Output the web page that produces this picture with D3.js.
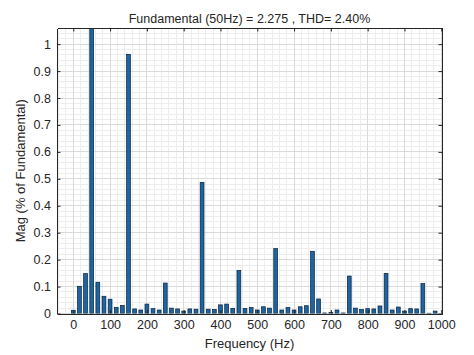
<!DOCTYPE html>
<html>
<head>
<meta charset="utf-8">
<script src="https://cdn.jsdelivr.net/npm/d3@7"></script>
<style>
  body { margin: 0; background: #fff; }
  text { font-family: "Liberation Sans", Arial, sans-serif; fill: #262626; }
</style>
</head>
<body>
<div id="chart"></div>
<script>
// spectrum bins, 50/3 Hz apart (3-cycle window)
const binStep = 50 / 3;
const magnitudes = [
  0.012, 0.101, 0.148, 100, 0.116, 0.064, 0.053, 0.023, 0.030, 0.962,
  0.017, 0.013, 0.035, 0.018, 0.013, 0.113, 0.020, 0.017, 0.009, 0.017,
  0.016, 0.487, 0.016, 0.015, 0.032, 0.035, 0.019, 0.160, 0.019, 0.022,
  0.013, 0.025, 0.020, 0.241, 0.013, 0.022, 0.013, 0.025, 0.029, 0.231,
  0.054, 0.002, 0.004, 0.013, 0.002, 0.139, 0.020, 0.015, 0.018, 0.017,
  0.028, 0.149, 0.013, 0.024, 0.009, 0.018, 0.017, 0.111, 0.001, 0.009,
  0
];
const xTicks = [0, 100, 200, 300, 400, 500, 600, 700, 800, 900, 1000];
const yTicks = [0, 0.1, 0.2, 0.3, 0.4, 0.5, 0.6, 0.7, 0.8, 0.9, 1];
const titleText = 'Fundamental (50Hz) = 2.275 , THD= 2.40%';

const width = 474, height = 355;
const margin = {top: 28, right: 32, bottom: 41.5, left: 57};

const svg = d3.select('#chart')
  .append('svg')
    .attr('width', width)
    .attr('height', height);

const x = d3.scaleLinear()
  .domain([-44.3, 1002])
  .range([margin.left, width - margin.right]);
const y = d3.scaleLinear()
  .domain([0, 1.06])
  .range([height - margin.bottom, margin.top]);

const plotLeft = margin.left, plotRight = width - margin.right;
const plotTop = margin.top, plotBottom = height - margin.bottom;

svg.append('clipPath').attr('id', 'plot-clip')
  .append('rect')
    .attr('x', plotLeft).attr('y', plotTop)
    .attr('width', plotRight - plotLeft).attr('height', plotBottom - plotTop);

// minor grid
const minorX = d3.range(-40, 1001, 20).filter(v => v % 100 !== 0);
const minorY = d3.range(0.02, 1.06, 0.02).filter(v => Math.abs(v * 10 - Math.round(v * 10)) > 1e-6);
const grid = svg.append('g').attr('shape-rendering', 'crispEdges');
grid.selectAll('.mx').data(minorX).join('line')
    .attr('x1', d => x(d)).attr('x2', d => x(d))
    .attr('y1', plotTop).attr('y2', plotBottom)
    .attr('stroke', '#ededed');
grid.selectAll('.my').data(minorY).join('line')
    .attr('y1', d => y(d)).attr('y2', d => y(d))
    .attr('x1', plotLeft).attr('x2', plotRight)
    .attr('stroke', '#ededed');
// major grid
grid.selectAll('.gx').data(xTicks).join('line')
    .attr('x1', d => x(d)).attr('x2', d => x(d))
    .attr('y1', plotTop).attr('y2', plotBottom)
    .attr('stroke', '#dadada');
grid.selectAll('.gy').data(yTicks).join('line')
    .attr('y1', d => y(d)).attr('y2', d => y(d))
    .attr('x1', plotLeft).attr('x2', plotRight)
    .attr('stroke', '#dadada');

// bars
const barW = x(binStep * 0.62) - x(0);
svg.append('g')
    .attr('clip-path', 'url(#plot-clip)')
  .selectAll('rect')
  .data(magnitudes)
  .join('rect')
    .attr('x', (d, i) => x(i * binStep) - barW / 2)
    .attr('y', d => y(Math.min(d, 1.2)))
    .attr('width', barW)
    .attr('height', d => y(0) - y(Math.min(d, 1.2)))
    .attr('fill', '#1d64a3')
    .attr('stroke', '#0b2239')
    .attr('stroke-width', 0.7);

// axes (box with inward ticks on all sides)
const tickLen = 3.5;
svg.append('g')
    .attr('transform', `translate(0,${plotBottom})`)
    .call(d3.axisBottom(x).tickValues(xTicks).tickSizeInner(-tickLen).tickSizeOuter(0).tickPadding(7)
      .tickFormat(d3.format('d')))
    .call(g => g.select('.domain').attr('stroke', '#262626'))
    .call(g => g.selectAll('.tick line').attr('stroke', '#262626'))
    .call(g => g.selectAll('.tick text').attr('font-size', 12.5).style('fill', '#262626'));
svg.append('g')
    .attr('transform', `translate(0,${plotTop})`)
    .call(d3.axisTop(x).tickValues(xTicks).tickSizeInner(-tickLen).tickSizeOuter(0).tickFormat(''))
    .call(g => g.select('.domain').attr('stroke', '#262626'))
    .call(g => g.selectAll('.tick line').attr('stroke', '#262626'));
svg.append('g')
    .attr('transform', `translate(${plotLeft},0)`)
    .call(d3.axisLeft(y).tickValues(yTicks).tickSizeInner(-tickLen).tickSizeOuter(0).tickPadding(6)
      .tickFormat(d => d3.format('~g')(d)))
    .call(g => g.select('.domain').attr('stroke', '#262626'))
    .call(g => g.selectAll('.tick line').attr('stroke', '#262626'))
    .call(g => g.selectAll('.tick text').attr('font-size', 12.5).style('fill', '#262626'));
svg.append('g')
    .attr('transform', `translate(${plotRight},0)`)
    .call(d3.axisRight(y).tickValues(yTicks).tickSizeInner(-tickLen).tickSizeOuter(0).tickFormat(''))
    .call(g => g.select('.domain').attr('stroke', '#262626'))
    .call(g => g.selectAll('.tick line').attr('stroke', '#262626'));
svg.selectAll('.domain').attr('shape-rendering', 'crispEdges');

// labels
svg.append('text')
    .attr('x', (plotLeft + plotRight) / 2)
    .attr('y', 23)
    .attr('text-anchor', 'middle')
    .attr('font-size', 12.5)
    .text(titleText);
svg.append('text')
    .attr('x', (plotLeft + plotRight) / 2)
    .attr('y', 348)
    .attr('text-anchor', 'middle')
    .attr('font-size', 13)
    .text('Frequency (Hz)');
svg.append('text')
    .attr('transform', `translate(25,${(plotTop + plotBottom) / 2}) rotate(-90)`)
    .attr('text-anchor', 'middle')
    .attr('font-size', 13)
    .text('Mag (% of Fundamental)');
</script>
</body>
</html>
